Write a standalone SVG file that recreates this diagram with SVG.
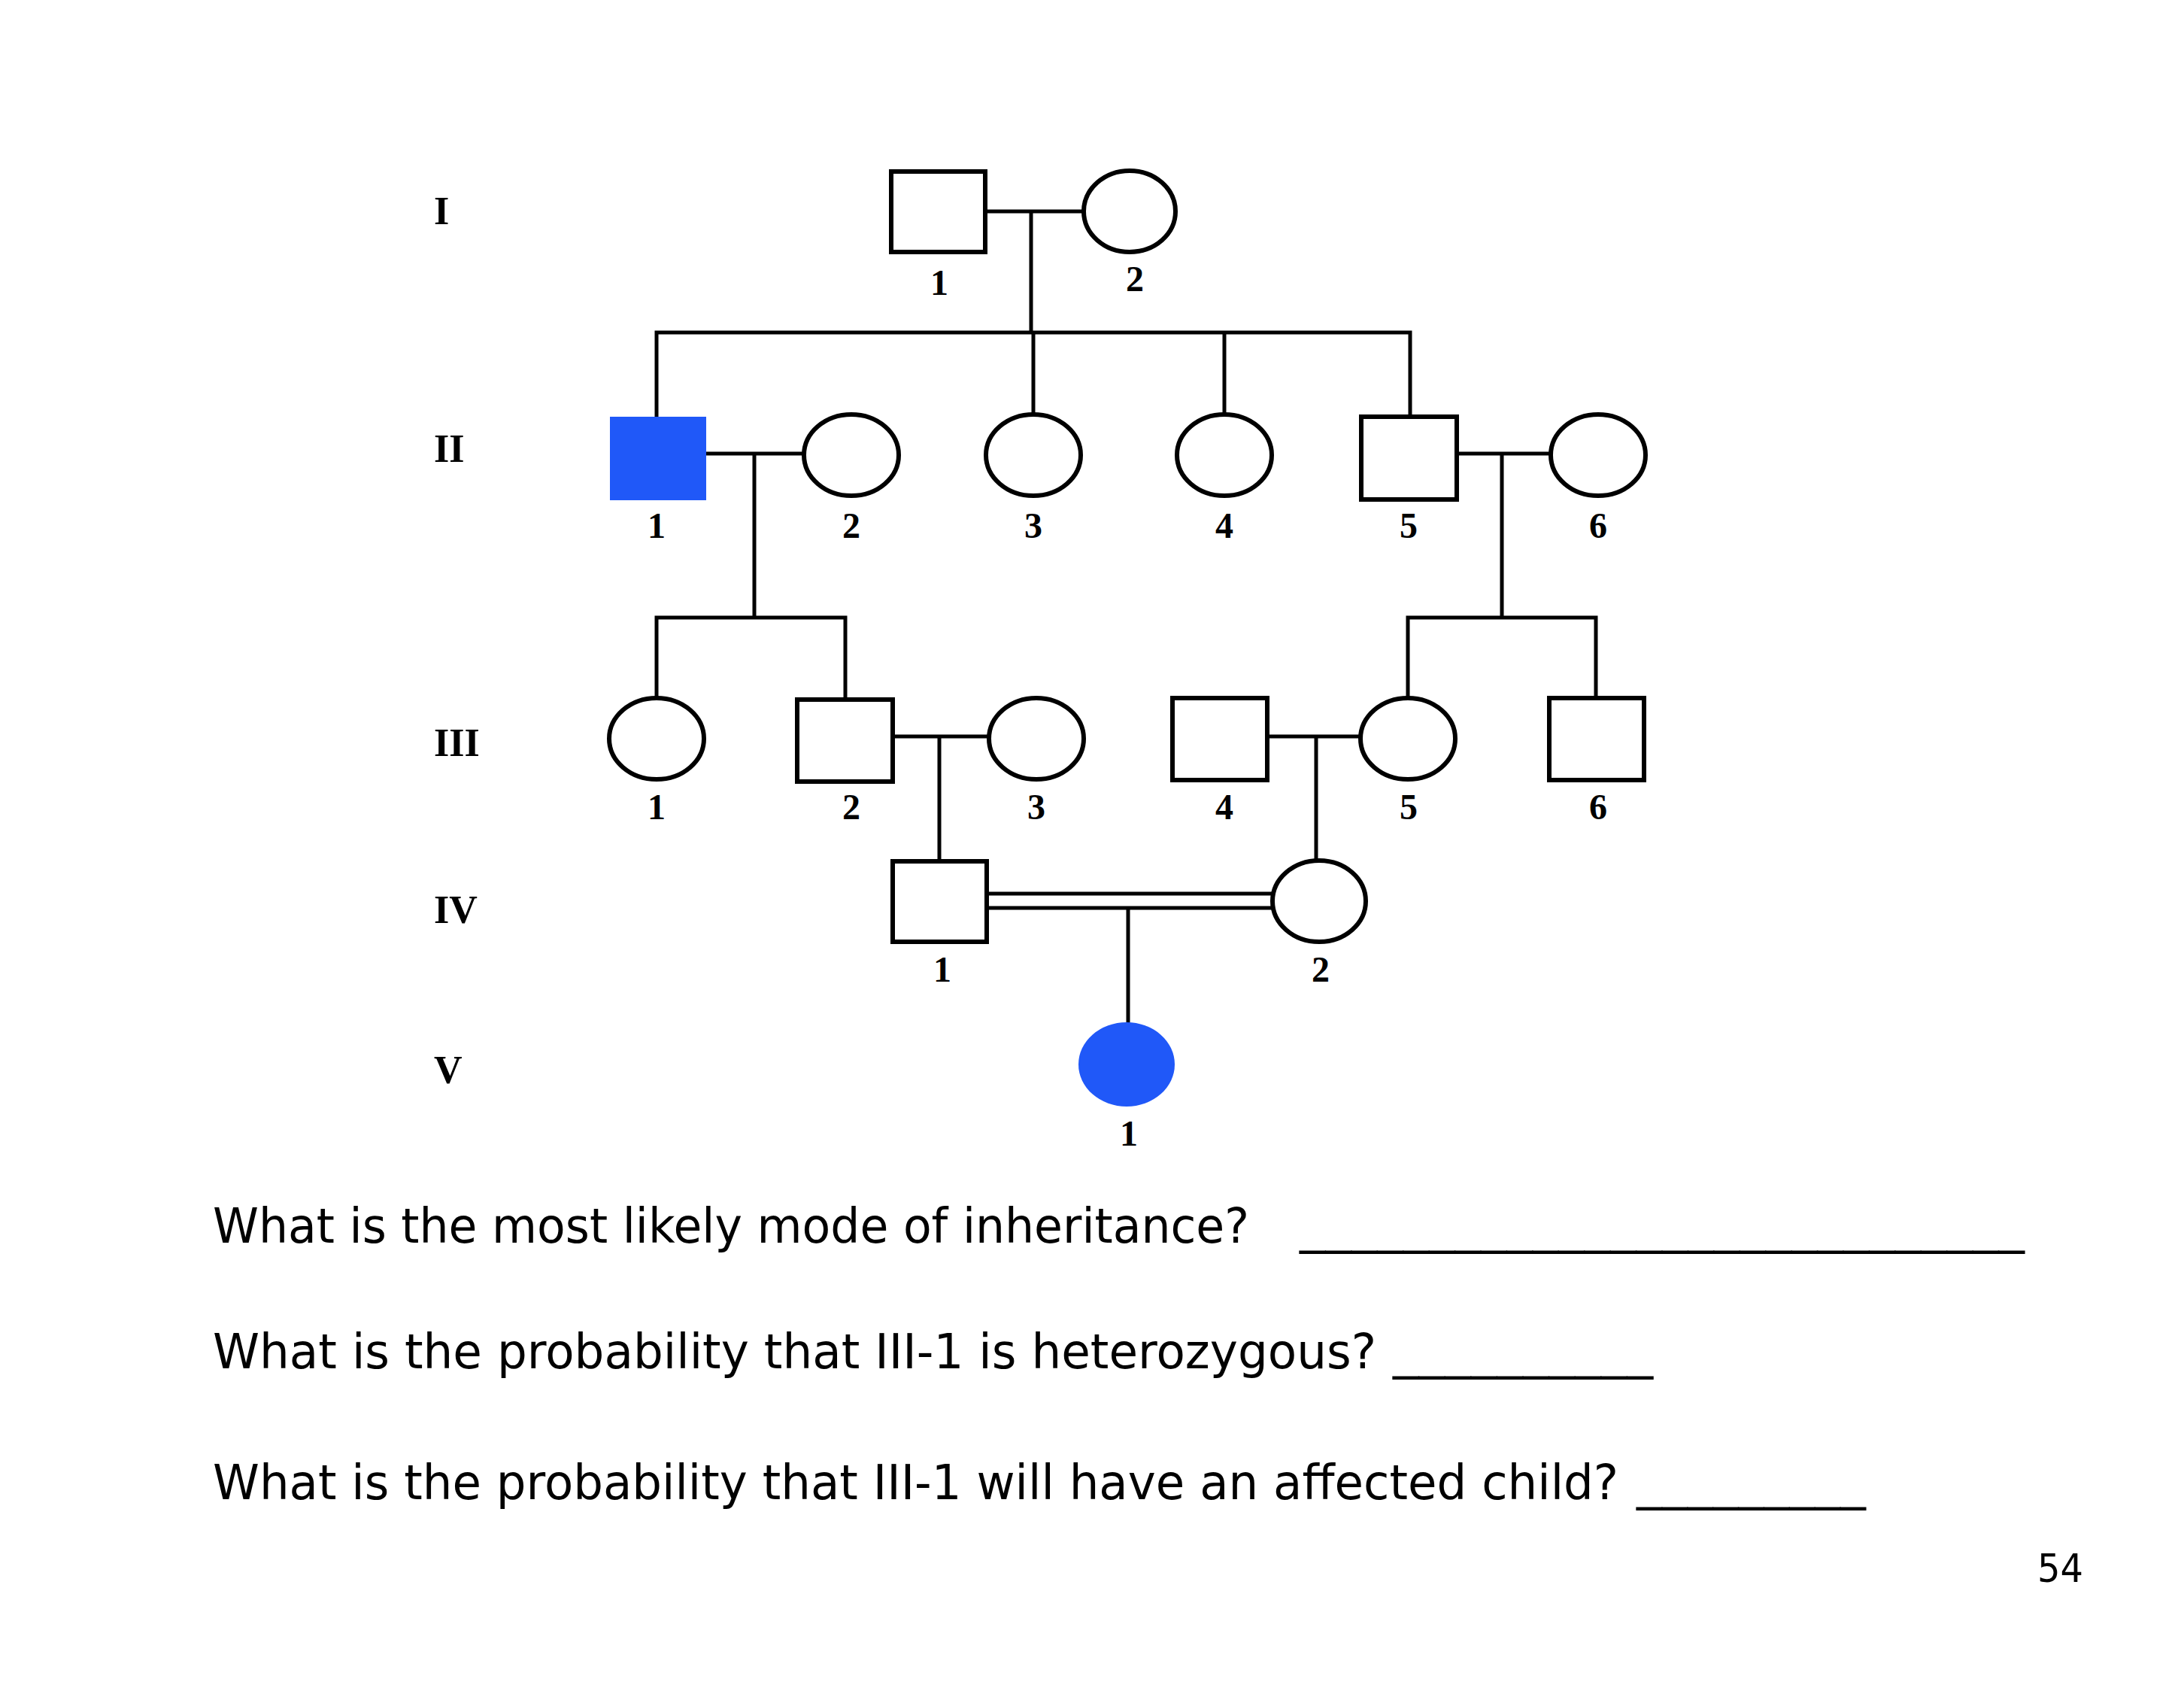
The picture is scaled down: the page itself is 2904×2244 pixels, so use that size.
<svg xmlns="http://www.w3.org/2000/svg" width="2904" height="2244" viewBox="0 0 2904 2244">
<style>
.s{fill:#fff;stroke:#000;stroke-width:6}
.a{fill:#2058f8;stroke:none}
.l{stroke:#000;stroke-width:5;fill:none}
.n{font-family:"Liberation Serif",serif;font-weight:bold;font-size:48px;text-anchor:middle}
.g{font-family:"Liberation Serif",serif;font-weight:bold;font-size:52px}
.q{font-family:"DejaVu Sans",Verdana,sans-serif;font-size:64px}
</style>
<rect width="2904" height="2244" fill="#fff"/>
<g id="gen-labels" class="g">
<text x="577" y="298">I</text><text x="577" y="614">II</text><text x="577" y="1005">III</text><text x="577" y="1227">IV</text><text x="577" y="1440">V</text>
</g>
<g id="connectors" class="l">
<line x1="1310" y1="281" x2="1441" y2="281"/>
<line x1="1371" y1="281" x2="1371" y2="442"/>
<polyline points="873,554 873,442 1875,442 1875,554"/>
<line x1="1374" y1="442" x2="1374" y2="551"/>
<line x1="1628" y1="442" x2="1628" y2="551"/>
<line x1="939" y1="603" x2="1069" y2="603"/>
<line x1="1003" y1="603" x2="1003" y2="821"/>
<polyline points="873,927 873,821 1124,821 1124,930"/>
<line x1="1937" y1="603" x2="2062" y2="603"/>
<line x1="1997" y1="603" x2="1997" y2="821"/>
<polyline points="1872,927 1872,821 2122,821 2122,930"/>
<line x1="1187" y1="979" x2="1315" y2="979"/>
<line x1="1249" y1="979" x2="1249" y2="1143"/>
<line x1="1685" y1="979" x2="1810" y2="979"/>
<line x1="1750" y1="979" x2="1750" y2="1143"/>
<line x1="1312" y1="1188" x2="1693" y2="1188"/>
<line x1="1312" y1="1207" x2="1693" y2="1207"/>
<line x1="1500" y1="1207" x2="1500" y2="1360"/>
</g>
<g id="I-1"><rect class="s" x="1185" y="228" width="125" height="107"/><text class="n" x="1249" y="392">1</text></g>
<g id="I-2"><ellipse class="s" cx="1502" cy="281" rx="61" ry="54"/><text class="n" x="1509" y="387">2</text></g>
<g id="II-1"><rect class="a" x="811" y="554" width="128" height="111"/><text class="n" x="873" y="715">1</text></g>
<g id="II-2"><ellipse class="s" cx="1132" cy="605" rx="63" ry="54"/><text class="n" x="1132" y="715">2</text></g>
<g id="II-3"><ellipse class="s" cx="1374" cy="605" rx="63" ry="54"/><text class="n" x="1374" y="715">3</text></g>
<g id="II-4"><ellipse class="s" cx="1628" cy="605" rx="63" ry="54"/><text class="n" x="1628" y="715">4</text></g>
<g id="II-5"><rect class="s" x="1810" y="554" width="127" height="110"/><text class="n" x="1873" y="715">5</text></g>
<g id="II-6"><ellipse class="s" cx="2125" cy="605" rx="63" ry="54"/><text class="n" x="2125" y="715">6</text></g>
<g id="III-1"><ellipse class="s" cx="873" cy="982" rx="63" ry="54"/><text class="n" x="873" y="1089">1</text></g>
<g id="III-2"><rect class="s" x="1060" y="930" width="127" height="109"/><text class="n" x="1132" y="1089">2</text></g>
<g id="III-3"><ellipse class="s" cx="1378" cy="982" rx="63" ry="54"/><text class="n" x="1378" y="1089">3</text></g>
<g id="III-4"><rect class="s" x="1559" y="928" width="126" height="109"/><text class="n" x="1628" y="1089">4</text></g>
<g id="III-5"><ellipse class="s" cx="1872" cy="982" rx="63" ry="54"/><text class="n" x="1873" y="1089">5</text></g>
<g id="III-6"><rect class="s" x="2060" y="928" width="126" height="109"/><text class="n" x="2125" y="1089">6</text></g>
<g id="IV-1"><rect class="s" x="1187" y="1145" width="125" height="107"/><text class="n" x="1253" y="1305">1</text></g>
<g id="IV-2"><ellipse class="s" cx="1754" cy="1198" rx="62" ry="54"/><text class="n" x="1756" y="1305">2</text></g>
<g id="V-1"><ellipse class="a" cx="1498" cy="1415" rx="64" ry="56"/><text class="n" x="1501" y="1523">1</text></g>
<g id="questions" class="q">
<text x="283" y="1652" textLength="1378" lengthAdjust="spacingAndGlyphs">What is the most likely mode of inheritance?</text>
<text x="1728" y="1652" textLength="964" lengthAdjust="spacingAndGlyphs">____________________________</text>
<text x="283" y="1819" textLength="1547" lengthAdjust="spacingAndGlyphs">What is the probability that III-1 is heterozygous?</text>
<text x="1852" y="1819" textLength="346" lengthAdjust="spacingAndGlyphs">__________</text>
<text x="283" y="1993" textLength="1869" lengthAdjust="spacingAndGlyphs">What is the probability that III-1 will have an affected child?</text>
<text x="2176" y="1993" textLength="305" lengthAdjust="spacingAndGlyphs">_________</text>
<text x="2709" y="2103" font-size="52" textLength="61" lengthAdjust="spacingAndGlyphs">54</text>
</g>
</svg>
